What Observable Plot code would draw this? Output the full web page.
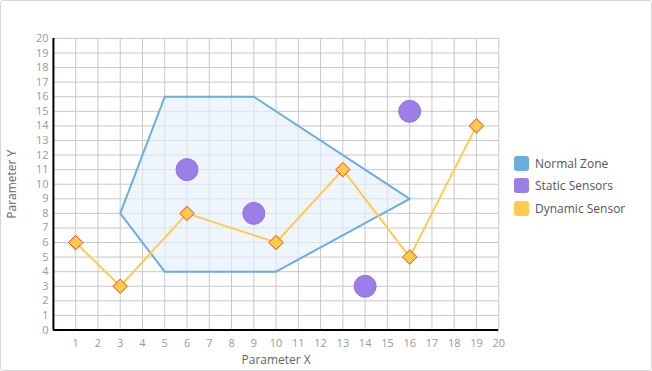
<!DOCTYPE html>
<html><head><meta charset="utf-8">
<script src="https://cdn.jsdelivr.net/npm/d3@7"></script>
<script src="https://cdn.jsdelivr.net/npm/@observablehq/plot@0.6"></script>
<style>
html,body{margin:0;padding:0;background:#fff;}
#wrap{position:relative;width:652px;height:371px;box-sizing:border-box;border:1px solid #d8d8d8;border-radius:3px;overflow:hidden;font-family:"Open Sans",sans-serif;}
#chart{position:absolute;left:-1px;top:-1px;}
#legend{position:absolute;left:513px;top:151px;font-size:12px;color:#555;}
.row{display:flex;align-items:center;height:22.5px;}
.sw{width:15px;height:15px;border-radius:3px;margin-right:6px;}
</style></head>
<body><div id="wrap"><div id="chart"></div><div id="legend"></div></div>
<script>
const zoneX = [3, 5, 9, 16, 10, 5];
const zoneY = [8, 16, 16, 9, 4, 4];
const staticX = [6, 9, 16, 14];
const staticY = [11, 8, 15, 3];
const dynX = [1, 3, 6, 10, 13, 16, 19];
const dynY = [6, 3, 8, 6, 11, 5, 14];
const seriesNames = ["Normal Zone", "Static Sensors", "Dynamic Sensor"];
const seriesColors = ["#6aaee0", "#9b7ee8", "#ffcb4c"];
const xTicks = d3.range(1, 21);
const yTicks = d3.range(0, 21);

const zone = zoneX.map((x, i) => ({x, y: zoneY[i]}));
const stat = staticX.map((x, i) => ({x, y: staticY[i]}));
const dyn = dynX.map((x, i) => ({x, y: dynY[i]}));

const plot = Plot.plot({
  width: 652, height: 371,
  marginLeft: 53, marginRight: 153, marginTop: 38, marginBottom: 41,
  style: {fontFamily: "'Open Sans', sans-serif", fontSize: "11px", color: "#999", background: "transparent"},
  x: {domain: [0, 20], ticks: xTicks, tickSize: 0, tickPadding: 9, label: null},
  y: {domain: [0, 20], ticks: yTicks, tickSize: 0, tickPadding: 5, label: null},
  marks: [
    Plot.gridX(d3.range(0, 21), {stroke: "#c8c8c8", strokeOpacity: 1}),
    Plot.gridY(yTicks, {stroke: "#c8c8c8", strokeOpacity: 1}),
    Plot.line(zone, {x: "x", y: "y", curve: "linear-closed", fill: "#e6effb", fillOpacity: 0.65, stroke: seriesColors[0], strokeWidth: 2}),
    Plot.dot(stat, {x: "x", y: "y", r: 11, fill: seriesColors[1], stroke: "#8f70e6", strokeWidth: 1}),
    Plot.line(dyn, {x: "x", y: "y", stroke: seriesColors[2], strokeWidth: 2}),
    Plot.dot(dyn, {x: "x", y: "y", symbol: "diamond2", r: 6.5, fill: seriesColors[2], stroke: "#ff3b1f", strokeWidth: 1}),
    Plot.ruleX([0], {stroke: "#000", strokeWidth: 2}),
    Plot.ruleY([0], {stroke: "#000", strokeWidth: 2}),
    Plot.axisX(xTicks, {tickSize: 0, tickPadding: 9, fill: "#999", fontSize: 11}),
    Plot.axisY(yTicks, {tickSize: 0, tickPadding: 5, fill: "#999", fontSize: 11}),
    Plot.text(["Parameter X"], {frameAnchor: "bottom", lineAnchor: "middle", dy: 30, fill: "#666", fontSize: 12}),
    Plot.text(["Parameter Y"], {frameAnchor: "left", textAnchor: "middle", lineAnchor: "middle", dx: -41, rotate: -90, fill: "#666", fontSize: 12})
  ]
});
document.getElementById("chart").appendChild(plot);

const leg = document.getElementById("legend");
seriesNames.forEach((n, i) => {
  const r = document.createElement("div"); r.className = "row";
  const s = document.createElement("div"); s.className = "sw"; s.style.background = seriesColors[i];
  const t = document.createElement("span"); t.textContent = n;
  r.appendChild(s); r.appendChild(t); leg.appendChild(r);
});
</script></body></html>
